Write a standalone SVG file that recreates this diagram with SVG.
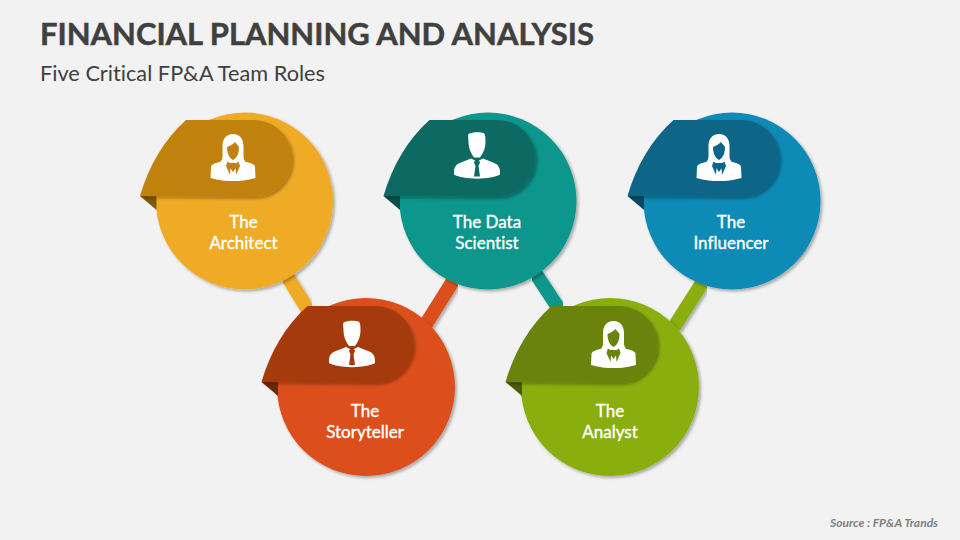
<svg xmlns="http://www.w3.org/2000/svg" xmlns:xlink="http://www.w3.org/1999/xlink" width="960" height="540" viewBox="0 0 960 540">
<style>
text{font-family:Lato,"Liberation Sans",sans-serif;font-variant-ligatures:none}
.t{font-size:31px;font-weight:700;fill:#404040;stroke:#404040;stroke-width:.5}
.s{font-size:21.500px;fill:#404040}
.l{font-size:17px;fill:#fff;stroke:#fff;stroke-width:.35;text-anchor:middle}
.src{font-size:10.500px;font-weight:700;font-style:italic;fill:#7f7f7f}
.sh{filter:url(#sh)}
.w{fill:#fff}
</style>
<defs>
<filter id="sh" x="-15%" y="-15%" width="130%" height="130%"><feDropShadow dx="2" dy="2" stdDeviation="1.500" flood-color="#000" flood-opacity=".3"/></filter>
<path id="banner" d="M-104.500-5C-96-35-80-62-58.500-81H9C30-81 47.500-64 47.500-42.500S30-4 9-4Z"/>
<path id="fold" d="M-104.500-5H-88V9Z"/>
<g id="female">
<path class="w" d="M0 0C-7 0-10.500 5-10.500 12V22C-10.500 24-11 26-12.500 27.500L-7 29H7L12.500 27.500C11 26 10.500 24 10.500 22V12C10.500 5 7 0 0 0Z"/>
<path class="w" d="M-22 33C-22 31-20 30-17 29L-8 26.500L0 38L8 26.500L17 29C20 30 22 31 22 33L22.500 44C14 46.500 7 47 0 47C-7 47-14 46.500-22.500 44Z"/>
</g>
<g id="male">
<path class="w" d="M-8.500 1.500C-5-.5 3-.5 6.500.5C8.500 1.500 8.500 5 8.500 10C8.500 16 6 21 3 25H-3C-6 21-8.500 16-8.500 10C-8.500 6-9.500 3-8.500 1.500Z"/>
<path class="w" d="M-23 38C-22 33-20 31.500-16 30L-6 26L-2 28L-3 30L-1.500 33.500L-3 44H3L1.500 33.500L3 30L2 28L6 26L16 30C20 31.500 22 33 23 38V42C14 47.500 -14 47.500 -23 42Z"/>
</g>
</defs>
<rect width="960" height="540" fill="#f2f2f2"/>
<text class="t" x="40" y="45" textLength="554" lengthAdjust="spacingAndGlyphs">FINANCIAL PLANNING AND ANALYSIS</text>
<text class="s" x="40" y="81" textLength="285" lengthAdjust="spacingAndGlyphs">Five Critical FP&amp;A Team Roles</text>
<text class="src" x="830" y="527" textLength="108" lengthAdjust="spacingAndGlyphs">Source : FP&amp;A Trands</text>
<g id="connectors" fill="none" stroke-width="14">
<path class="sh" stroke="#f0ab28" d="M287 276L308 310"/>
<path class="sh" stroke="#dc4f1a" d="M426 324L453 281"/>
<path class="sh" stroke="#11968b" d="M536 274L559 309"/>
<path class="sh" stroke="#8aae11" d="M674 327L702 283"/>
</g>
<g id="architect" transform="translate(244.500 201)">
<circle class="sh" r="88.500" fill="#f0ab28"/>
<use href="#fold" fill="#7f5a07"/><use class="sh" href="#banner" fill="#c1820f"/>
<g transform="translate(-11.500 -67)"><use href="#female"/>
<path fill="#c1820f" d="M-6 13C-3 12 0 10 2 8C3 10 5 11 6 13C6 19 4 24 0 26C-4 24-6 19-6 13Z"/>
<path fill="#c1820f" d="M-5.500 27.500L-2 30L-2.500 34L-3 41L-7 32ZM5.500 27.500L2 30L2.500 34L3 41L7 32Z"/></g>
<text class="l" x="-1" y="27">The</text><text class="l" x="-1" y="48">Architect</text>
</g>
<g id="data-scientist" transform="translate(488 201)">
<circle class="sh" r="88.500" fill="#11968b"/>
<use href="#fold" fill="#0a4f49"/><use class="sh" href="#banner" fill="#0e6b62"/>
<use href="#male" transform="translate(-11 -68.500)"/>
<text class="l" x="-1" y="27">The Data</text><text class="l" x="-1" y="48">Scientist</text>
</g>
<g id="influencer" transform="translate(732 201)">
<circle class="sh" r="88.500" fill="#0e8ab5"/>
<use href="#fold" fill="#084a63"/><use class="sh" href="#banner" fill="#0a6588"/>
<g transform="translate(-13 -67)"><use href="#female"/>
<path fill="#0a6588" d="M-6 13C-3 12 0 10 2 8C3 10 5 11 6 13C6 19 4 24 0 26C-4 24-6 19-6 13Z"/>
<path fill="#0a6588" d="M-5.500 27.500L-2 30L-2.500 34L-3 41L-7 32ZM5.500 27.500L2 30L2.500 34L3 41L7 32Z"/></g>
<text class="l" x="-1" y="27">The</text><text class="l" x="-1" y="48">Influencer</text>
</g>
<g id="storyteller" transform="translate(366 387)">
<circle class="sh" r="89" fill="#dc4f1a"/>
<use href="#fold" fill="#702709"/><use class="sh" href="#banner" fill="#a53a11"/>
<use href="#male" transform="translate(-14 -66)"/>
<text class="l" x="-1" y="30">The</text><text class="l" x="-1" y="51">Storyteller</text>
</g>
<g id="analyst" transform="translate(610 387)">
<circle class="sh" r="89" fill="#8aae11"/>
<use href="#fold" fill="#4a5c08"/><use class="sh" href="#banner" fill="#6a830e"/>
<g transform="translate(3.500 -66)"><use href="#female"/>
<path fill="#6a830e" d="M-6 13C-3 12 0 10 2 8C3 10 5 11 6 13C6 19 4 24 0 26C-4 24-6 19-6 13Z"/>
<path fill="#6a830e" d="M-5.500 27.500L-2 30L-2.500 34L-3 41L-7 32ZM5.500 27.500L2 30L2.500 34L3 41L7 32Z"/></g>
<text class="l" x="0" y="30">The</text><text class="l" x="0" y="51">Analyst</text>
</g>
</svg>
